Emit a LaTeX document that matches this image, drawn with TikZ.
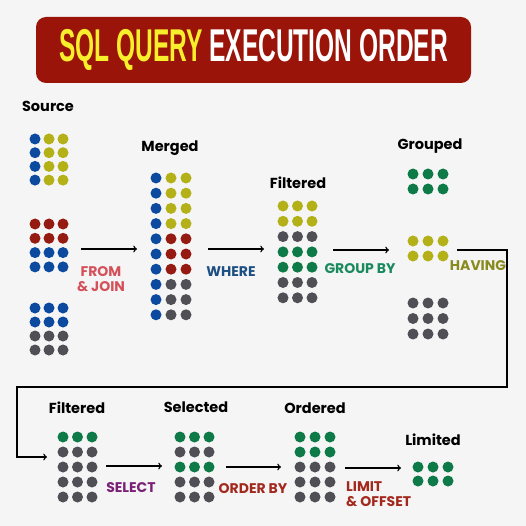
\documentclass[tikz,border=0pt]{standalone}
\usepackage{fontspec}
\usepackage{graphicx}
\usepackage{tikz}
\usetikzlibrary{positioning}
\newfontfamily\popp{Poppins}
\newfontfamily\ttlfont{Liberation Sans}
\definecolor{bgc}{HTML}{F5F5F5}
\definecolor{ttlred}{HTML}{9A1409}
\definecolor{ttlyel}{HTML}{F7EE2C}
\definecolor{blu}{HTML}{0B4A9E}
\definecolor{olv}{HTML}{B3B018}
\definecolor{rdd}{HTML}{951A12}
\definecolor{gry}{HTML}{4F4F55}
\definecolor{grn}{HTML}{0E7A48}
\definecolor{fromc}{HTML}{D4515A}
\definecolor{wherec}{HTML}{1D4F82}
\definecolor{groupc}{HTML}{1A8A5E}
\definecolor{havingc}{HTML}{8A8A1E}
\definecolor{selectc}{HTML}{7A2177}
\definecolor{orderc}{HTML}{A3291E}
\newcommand{\dotblock}[5]{%
\foreach \p/\q/\s [count=\r from 0] in {#5}{%
\fill[\p] (#1,#2+\r*#4) circle (5.5pt);
\fill[\q] (#1+#3,#2+\r*#4) circle (5.5pt);
\fill[\s] (#1+2*#3,#2+\r*#4) circle (5.5pt);}}
\begin{document}
\begin{tikzpicture}[x=1pt,y=-1pt,
  head/.style={font=\popp\bfseries\fontsize{14.5}{16}\selectfont,inner sep=0pt},
  clause/.style={font=\popp\bfseries\fontsize{14}{15}\selectfont,inner sep=0pt,align=center},
  flow/.style={->,line width=1.4pt,black}]
\useasboundingbox (0,0) rectangle (526,526);
\fill[bgc] (0,0) rectangle (526,526);
\node[fill=ttlred,rounded corners=10pt,minimum width=435pt,minimum height=66pt,text=white,inner sep=0pt] (ttl) at (253.5,50)
  {\resizebox{389pt}{\height}{\ttlfont\bfseries\fontsize{46}{46}\selectfont{\color{ttlyel}SQL QUERY} EXECUTION ORDER}};
\node[head] (src) at (48,106) {Source};
\node[head] (mrg) at (170,148) {Merged};
\node[head] (flt) at (298,183) {Filtered};
\node[head] (grp) at (430,146) {Grouped};
\node[head] (flt2) at (77,408) {Filtered};
\node[head] (sel) at (196,407) {Selected};
\node[head] (ord) at (315,408) {Ordered};
\node[head] (lim) at (433,440) {Limited};
\dotblock{35}{139}{14}{13.7}{blu/olv/olv,blu/olv/olv,blu/olv/olv,blu/olv/olv}
\dotblock{35}{224}{14}{14.3}{rdd/rdd/rdd,rdd/rdd/rdd,blu/blu/blu,blu/blu/blu}
\dotblock{35}{308}{14}{14}{blu/blu/blu,blu/blu/blu,gry/gry/gry,gry/gry/gry}
\dotblock{156}{178}{15}{15.2}{blu/olv/olv,blu/olv/olv,blu/olv/olv,blu/olv/olv,blu/rdd/rdd,blu/rdd/rdd,blu/rdd/rdd,blu/gry/gry,blu/gry/gry,blu/gry/gry}
\dotblock{283}{206}{14.5}{15.3}{olv/olv/olv,olv/olv/olv,gry/gry/gry,grn/grn/grn,grn/grn/grn,gry/gry/gry,gry/gry/gry}
\dotblock{413}{174}{15}{15}{grn/grn/grn,grn/grn/grn}
\dotblock{413}{241}{15}{15}{olv/olv/olv,olv/olv/olv}
\dotblock{413}{303}{15}{15.5}{gry/gry/gry,gry/gry/gry,gry/gry/gry}
\dotblock{63}{437}{14.5}{15}{grn/grn/grn,gry/gry/gry,gry/gry/gry,gry/gry/gry,gry/gry/gry}
\dotblock{180}{437}{14.5}{15}{grn/grn/grn,gry/gry/gry,grn/grn/grn,gry/gry/gry,gry/gry/gry}
\dotblock{300}{437}{15}{15}{grn/grn/grn,grn/grn/grn,gry/gry/gry,gry/gry/gry,gry/gry/gry}
\dotblock{418}{467}{15}{14}{grn/grn/grn,grn/grn/grn}
\coordinate (fromA) at (81,249);
\coordinate (fromB) at (137,249);
\coordinate (whereA) at (208,249);
\coordinate (whereB) at (264,249);
\coordinate (groupA) at (333,250);
\coordinate (groupB) at (389,250);
\coordinate (havA) at (457,250);
\coordinate (havB) at (507,250);
\coordinate (havC) at (507,387);
\coordinate (havD) at (17,387);
\coordinate (havE) at (17,457);
\coordinate (havF) at (47,457);
\coordinate (selA) at (106,466);
\coordinate (selB) at (162,466);
\coordinate (ordA) at (226,467);
\coordinate (ordB) at (281,467);
\coordinate (limA) at (345,468);
\coordinate (limB) at (401,468);
\draw[flow] (fromA) -- (fromB);
\draw[flow] (whereA) -- (whereB);
\draw[flow] (groupA) -- (groupB);
\draw[flow] (havA) -- (havB) -- (havC) -- (havD) -- (havE) -- (havF);
\draw[flow] (selA) -- (selB);
\draw[flow] (ordA) -- (ordB);
\draw[flow] (limA) -- (limB);
\node[clause,text=fromc] (fromlbl) at (101,279.5) {FROM\\\& JOIN};
\node[clause,text=wherec] (wherelbl) at (231,272) {WHERE};
\node[clause,text=groupc] (grouplbl) at (360,269) {GROUP BY};
\node[clause,text=havingc] (havlbl) at (478,266) {HAVING};
\node[clause,text=selectc] (sellbl) at (131,488) {SELECT};
\node[clause,text=orderc] (ordlbl) at (253,489) {ORDER BY};
\node[clause,text=orderc,align=left,anchor=west] (limlbl) at (346,494.5) {LIMIT\\\& OFFSET};
\end{tikzpicture}
\end{document}
